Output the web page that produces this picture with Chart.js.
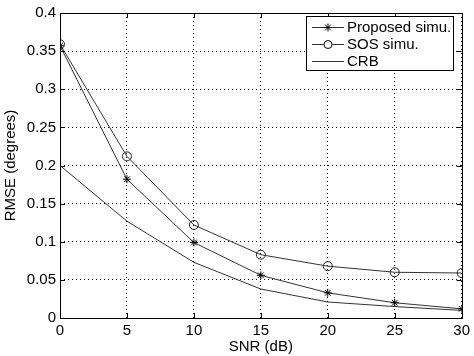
<!DOCTYPE html>
<html><head><meta charset="utf-8">
<script src="https://cdn.jsdelivr.net/npm/chart.js@4/dist/chart.umd.min.js"></script>
<style>html,body{margin:0;padding:0;background:#fff}#wrap{width:474px;height:356px}</style>
</head><body><div id="wrap"><canvas id="c" width="474" height="356"></canvas></div>
<script>
const snr = [0, 5, 10, 15, 20, 25, 30];
const proposed = [0.357, 0.182, 0.099, 0.056, 0.033, 0.020, 0.012];
const sos = [0.359, 0.212, 0.122, 0.083, 0.068, 0.060, 0.059];
const crb = [0.200, 0.127, 0.073, 0.038, 0.021, 0.015, 0.010];
const xTicks = [0, 5, 10, 15, 20, 25, 30];
const yTicks = [0, 0.05, 0.1, 0.15, 0.2, 0.25, 0.3, 0.35, 0.4];
const yTickLabels = ['0', '0.05', '0.1', '0.15', '0.2', '0.25', '0.3', '0.35', '0.4'];
const seriesNames = ['Proposed simu.', 'SOS simu.', 'CRB'];

const FONT = {family: 'Liberation Sans, Arial, sans-serif', size: 15};
const LINE = '#333';
Chart.defaults.color = '#000';

function pts(vals) { return snr.map((x, i) => ({x: x, y: vals[i]})); }

const framePlugin = {
  id: 'frame',
  afterDraw(chart) {
    const ctx = chart.ctx, a = chart.chartArea;
    const xs = chart.scales.x, ys = chart.scales.y;
    ctx.save();
    ctx.strokeStyle = '#000';
    ctx.lineWidth = 1;
    ctx.setLineDash([]);
    ctx.strokeRect(Math.round(a.left) + 0.5, Math.round(a.top) + 0.5, Math.round(a.right - a.left), Math.round(a.bottom - a.top));
    ctx.beginPath();
    const tl = 5;
    xTicks.forEach(v => {
      const px = Math.round(xs.getPixelForValue(v)) + 0.5;
      ctx.moveTo(px, a.bottom); ctx.lineTo(px, a.bottom - tl);
      ctx.moveTo(px, a.top); ctx.lineTo(px, a.top + tl);
    });
    yTicks.forEach(v => {
      const py = Math.round(ys.getPixelForValue(v)) + 0.5;
      ctx.moveTo(a.left, py); ctx.lineTo(a.left + tl, py);
      ctx.moveTo(a.right, py); ctx.lineTo(a.right - tl, py);
    });
    ctx.stroke();

    // legend
    const bx = 306.5, by = 16.5, bw = 147, bh = 54;
    ctx.fillStyle = '#fff';
    ctx.fillRect(bx, by, bw, bh);
    ctx.strokeRect(bx, by, bw, bh);
    const rows = [27, 44, 61];
    const styles = ['star', 'circle', false];
    ctx.font = FONT.size + 'px ' + FONT.family;
    ctx.textBaseline = 'middle';
    ctx.textAlign = 'left';
    rows.forEach((ry, i) => {
      ctx.strokeStyle = LINE;
      ctx.lineWidth = 1;
      ctx.beginPath();
      ctx.moveTo(312, ry + 0.5); ctx.lineTo(344, ry + 0.5);
      ctx.stroke();
      if (styles[i]) {
        ctx.fillStyle = '#fff';
        ctx.strokeStyle = '#000';
        Chart.helpers.drawPoint(ctx, {pointStyle: styles[i], radius: 4, borderWidth: 1}, 328, ry + 0.5);
      }
      ctx.fillStyle = '#000';
      ctx.fillText(seriesNames[i], 347, ry + 1);
    });
    ctx.restore();
  }
};

new Chart(document.getElementById('c'), {
  type: 'line',
  data: {
    datasets: [
      {label: seriesNames[0], data: pts(proposed), borderColor: LINE, borderWidth: 1, pointStyle: 'star', pointRadius: 4, pointBorderColor: '#000', pointBackgroundColor: 'transparent', pointBorderWidth: 1, tension: 0, fill: false},
      {label: seriesNames[1], data: pts(sos), borderColor: LINE, borderWidth: 1, pointStyle: 'circle', pointRadius: 4.5, pointBorderColor: '#222', pointBackgroundColor: 'transparent', pointBorderWidth: 1, tension: 0, fill: false},
      {label: seriesNames[2], data: pts(crb), borderColor: LINE, borderWidth: 1, pointRadius: 0, tension: 0, fill: false}
    ]
  },
  options: {
    responsive: false,
    animation: false,
    events: [],
    layout: {padding: {top: 6, right: 9, left: 0, bottom: 0}},
    plugins: {legend: {display: false}, tooltip: {enabled: false}},
    scales: {
      x: {
        type: 'linear', min: 0, max: 30,
        afterBuildTicks(s) { s.ticks = xTicks.map(v => ({value: v})); },
        afterFit(s) { s.height = 38; },
        grid: {color: '#000', lineWidth: 1, drawTicks: false},
        border: {display: false, dash: [1, 3]},
        ticks: {font: FONT, color: '#000', padding: 4, maxRotation: 0, autoSkip: false},
        title: {display: true, text: 'SNR (dB)', font: FONT, color: '#000', padding: {top: 0, bottom: 0}}
      },
      y: {
        type: 'linear', min: 0, max: 0.4,
        afterBuildTicks(s) { s.ticks = yTicks.map(v => ({value: v})); },
        afterFit(s) { s.width = 60; },
        grid: {color: '#000', lineWidth: 1, drawTicks: false},
        border: {display: false, dash: [1, 3]},
        ticks: {font: FONT, color: '#000', padding: 4, autoSkip: false,
          callback: (v) => { const i = yTicks.findIndex(t => Math.abs(t - v) < 1e-9); return i >= 0 ? yTickLabels[i] : ''; }},
        title: {display: true, text: 'RMSE (degrees)', font: FONT, color: '#000', padding: {top: 2, bottom: 0}}
      }
    }
  },
  plugins: [framePlugin]
});
</script>
</body></html>
